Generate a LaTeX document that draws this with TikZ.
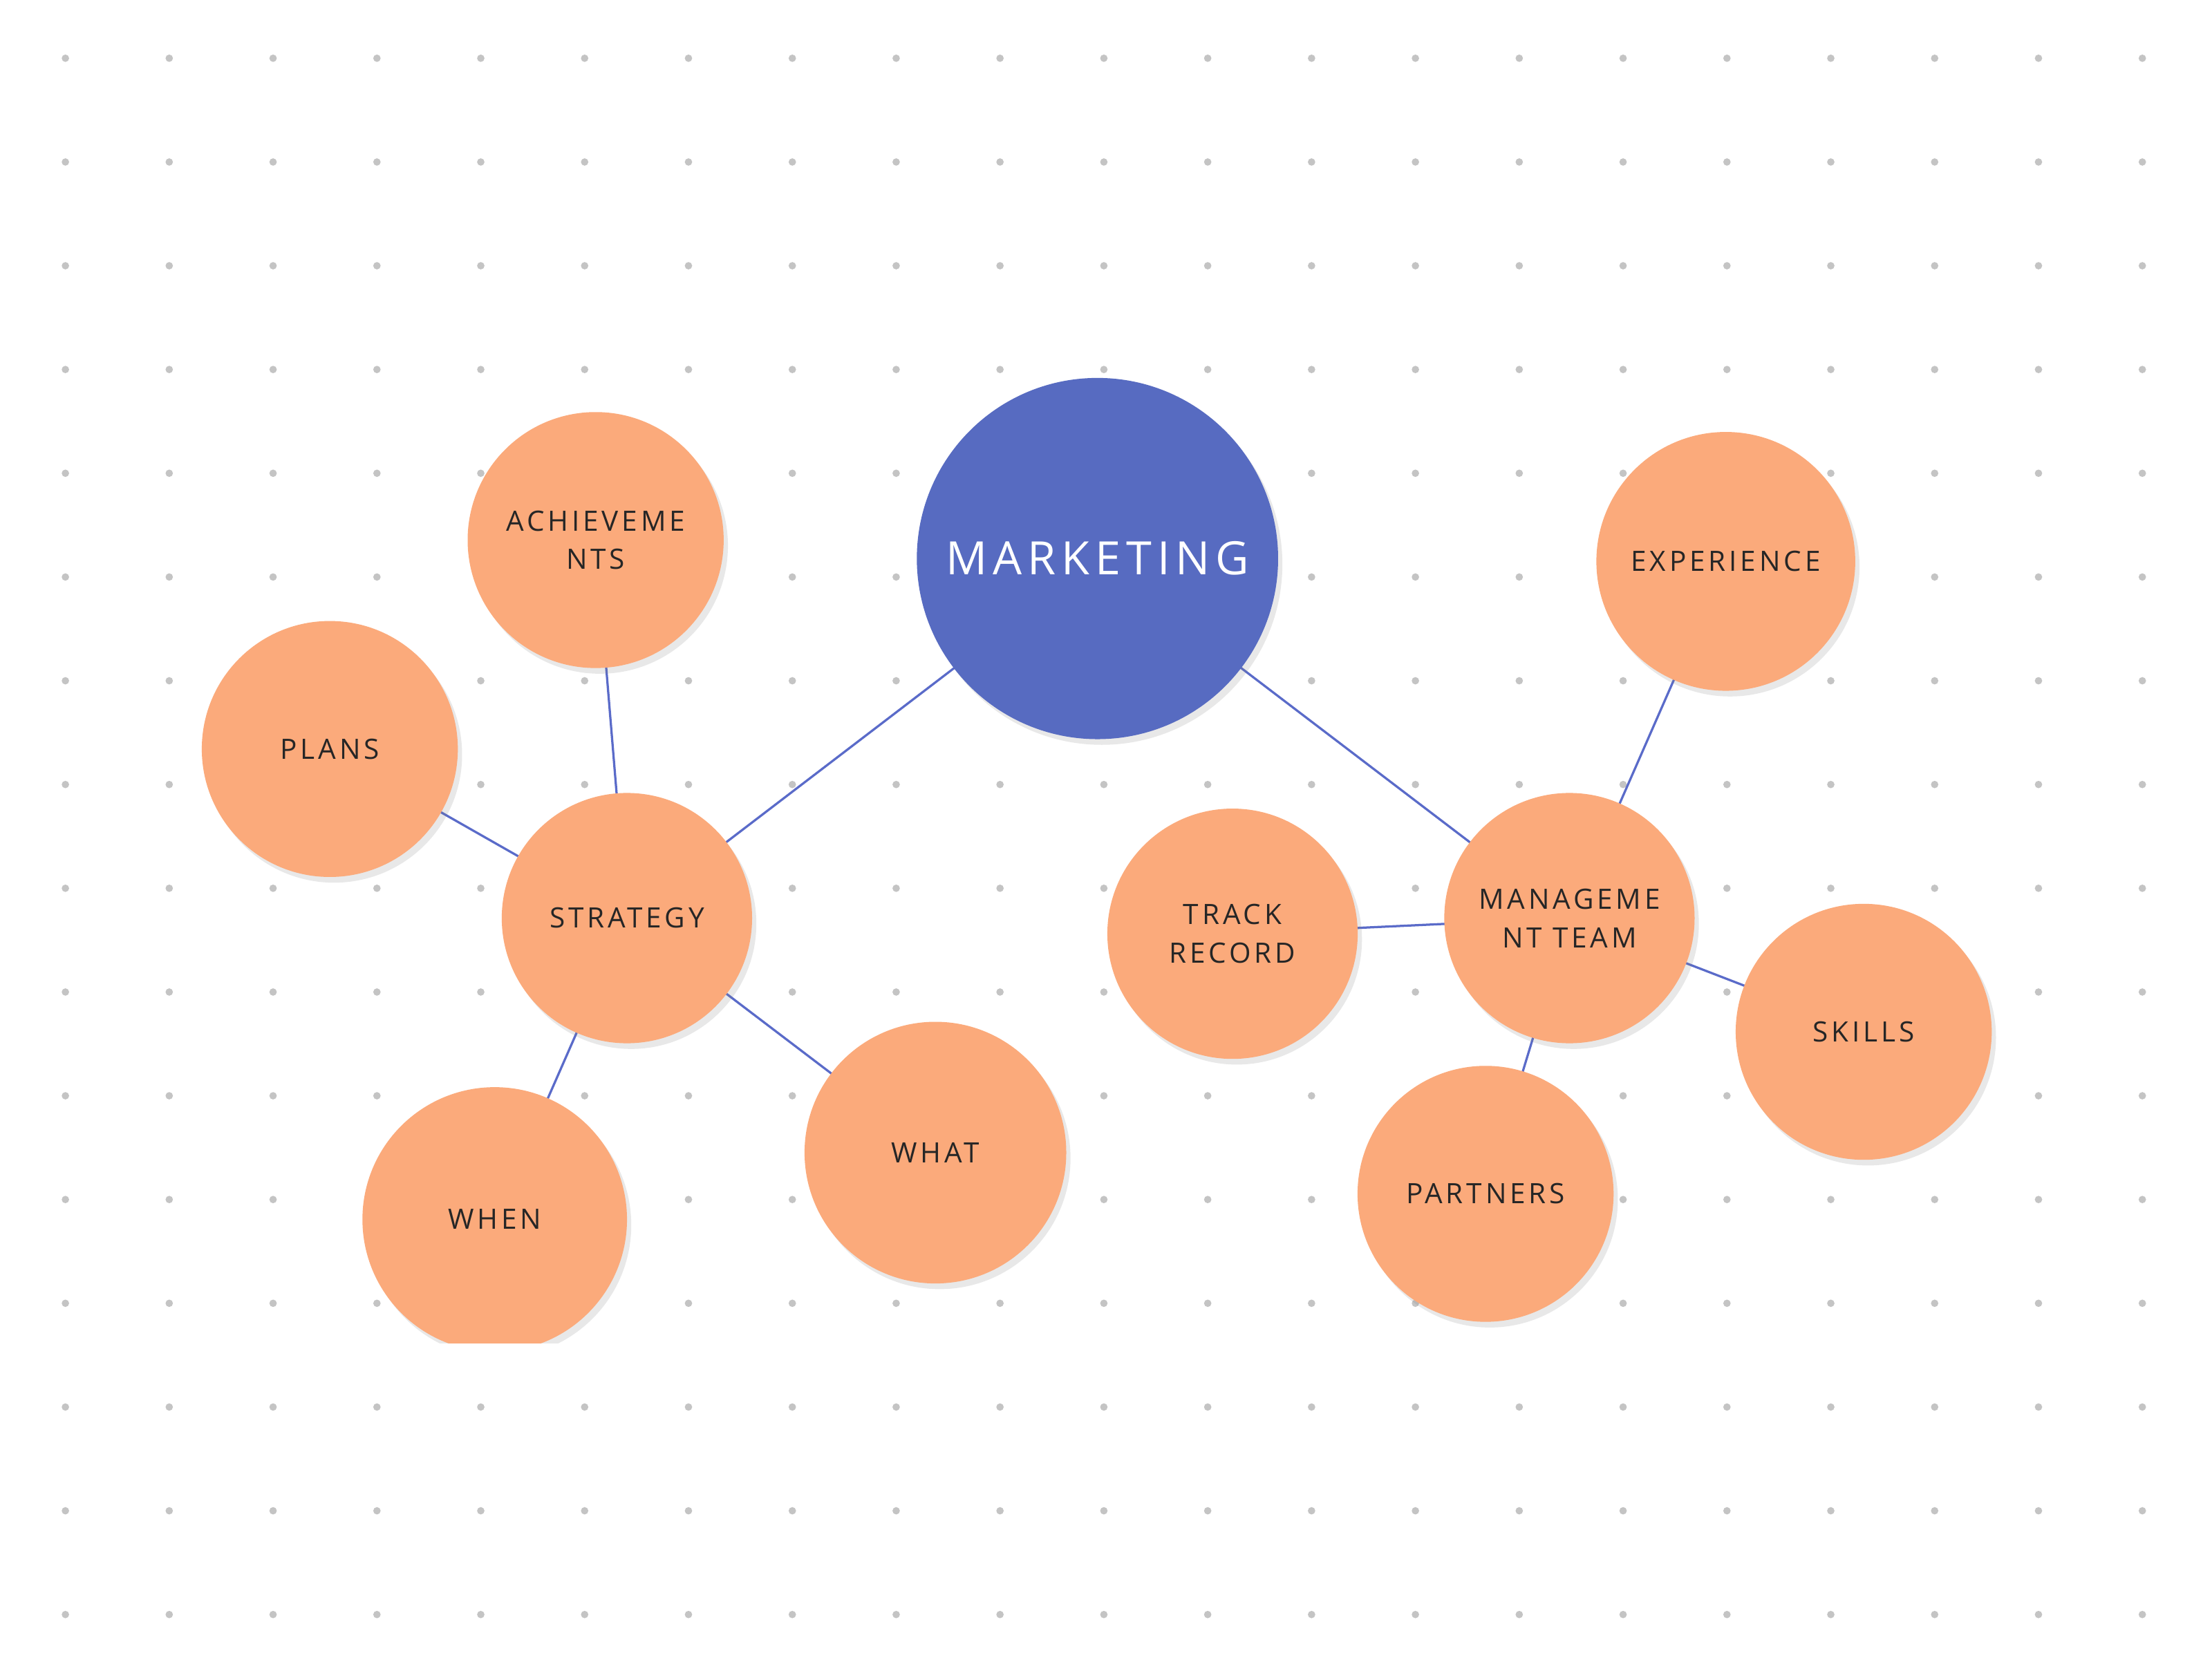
\documentclass[tikz,border=0pt]{standalone}
\usepackage{fontspec}
\setmainfont{Open Sans}[LetterSpace=12]
\usetikzlibrary{shadows}
\definecolor{orng}{HTML}{FBAA7B}
\definecolor{mblue}{HTML}{576BC1}
\definecolor{lblue}{HTML}{5A6BC9}
\definecolor{dotc}{HTML}{C4C4C4}
\tikzset{
  bub/.style={circle,fill=orng,minimum size=#1,inner sep=0pt,align=center,
    font=\fontsize{5.6}{7.7}\selectfont,text=black!85,
    drop shadow={shadow xshift=0.03cm,shadow yshift=-0.04cm,opacity=0.18}},
  link/.style={draw=lblue,line width=0.45pt}
}
\begin{document}
\begin{tikzpicture}[x=0.01cm,y=-0.01cm]
\useasboundingbox[fill=white] (0,0) rectangle (1556,1168);
\foreach \i in {0,...,20}{\foreach \j in {0,...,15}{
  \fill[dotc] ({46+73.05*\i},{41+73*\j}) circle (2.6);}}
\coordinate (mk) at (772,393);
\coordinate (st) at (441,646);
\coordinate (mg) at (1104,646);
\draw[link] (772,393) -- (441,646);
\draw[link] (772,393) -- (1104,646);
\draw[link] (441,646) -- (419,380);
\draw[link] (441,646) -- (232,527);
\draw[link] (441,646) -- (348,858);
\draw[link] (441,646) -- (658,811);
\draw[link] (1104,646) -- (1214,395);
\draw[link] (1104,646) -- (867,657);
\draw[link] (1104,646) -- (1311,726);
\draw[link] (1104,646) -- (1045,840);
\node[bub=2.54cm,fill=mblue,text=white,font=\fontsize{9.2}{11}\selectfont] (MK) at (772,393) {MARKETING};
\node[bub=1.8cm] (ACH) at (419,380) {ACHIEVEME\\NTS};
\node[bub=1.8cm] (PL) at (232,527) {PLANS};
\node[bub=1.76cm] (ST) at (441,646) {STRATEGY};
\begin{scope}
\clip (200,700) rectangle (500,945);
\node[bub=1.86cm] (WN) at (348,858) {WHEN};
\end{scope}
\node[bub=1.84cm] (WH) at (658,811) {WHAT};
\node[bub=1.82cm] (EX) at (1214,395) {EXPERIENCE};
\node[bub=1.76cm] (TR) at (867,657) {TRACK\\RECORD};
\node[bub=1.76cm] (MG) at (1104,646) {MANAGEME\\NT TEAM};
\node[bub=1.8cm] (SK) at (1311,726) {SKILLS};
\node[bub=1.8cm] (PA) at (1045,840) {PARTNERS};
\end{tikzpicture}
\end{document}
